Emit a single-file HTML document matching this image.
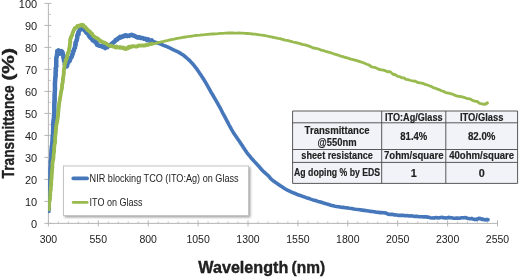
<!DOCTYPE html><html><head><meta charset="utf-8"><title>Transmittance</title>
<style>html,body{margin:0;padding:0;background:#fff}svg{display:block}text{font-family:"Liberation Sans",sans-serif;fill:#222}</style></head><body>
<svg width="520" height="277" viewBox="0 0 520 277">
<rect width="520" height="277" fill="#fff"/>
<g stroke="#b6b6b6" stroke-width="1" fill="none">
<line x1="48.4" y1="3.4" x2="48.4" y2="223.4"/>
<line x1="48.4" y1="223.4" x2="497.5" y2="223.4"/>
<line x1="48.4" y1="220.4" x2="48.4" y2="226.4"/>
<line x1="58.4" y1="221.4" x2="58.4" y2="223.4" stroke-opacity="0.8"/>
<line x1="68.4" y1="221.4" x2="68.4" y2="223.4" stroke-opacity="0.8"/>
<line x1="78.3" y1="221.4" x2="78.3" y2="223.4" stroke-opacity="0.8"/>
<line x1="88.3" y1="221.4" x2="88.3" y2="223.4" stroke-opacity="0.8"/>
<line x1="98.3" y1="220.4" x2="98.3" y2="226.4"/>
<line x1="108.3" y1="221.4" x2="108.3" y2="223.4" stroke-opacity="0.8"/>
<line x1="118.3" y1="221.4" x2="118.3" y2="223.4" stroke-opacity="0.8"/>
<line x1="128.2" y1="221.4" x2="128.2" y2="223.4" stroke-opacity="0.8"/>
<line x1="138.2" y1="221.4" x2="138.2" y2="223.4" stroke-opacity="0.8"/>
<line x1="148.2" y1="220.4" x2="148.2" y2="226.4"/>
<line x1="158.2" y1="221.4" x2="158.2" y2="223.4" stroke-opacity="0.8"/>
<line x1="168.2" y1="221.4" x2="168.2" y2="223.4" stroke-opacity="0.8"/>
<line x1="178.1" y1="221.4" x2="178.1" y2="223.4" stroke-opacity="0.8"/>
<line x1="188.1" y1="221.4" x2="188.1" y2="223.4" stroke-opacity="0.8"/>
<line x1="198.1" y1="220.4" x2="198.1" y2="226.4"/>
<line x1="208.1" y1="221.4" x2="208.1" y2="223.4" stroke-opacity="0.8"/>
<line x1="218.1" y1="221.4" x2="218.1" y2="223.4" stroke-opacity="0.8"/>
<line x1="228.0" y1="221.4" x2="228.0" y2="223.4" stroke-opacity="0.8"/>
<line x1="238.0" y1="221.4" x2="238.0" y2="223.4" stroke-opacity="0.8"/>
<line x1="248.0" y1="220.4" x2="248.0" y2="226.4"/>
<line x1="258.0" y1="221.4" x2="258.0" y2="223.4" stroke-opacity="0.8"/>
<line x1="268.0" y1="221.4" x2="268.0" y2="223.4" stroke-opacity="0.8"/>
<line x1="277.9" y1="221.4" x2="277.9" y2="223.4" stroke-opacity="0.8"/>
<line x1="287.9" y1="221.4" x2="287.9" y2="223.4" stroke-opacity="0.8"/>
<line x1="297.9" y1="220.4" x2="297.9" y2="226.4"/>
<line x1="307.9" y1="221.4" x2="307.9" y2="223.4" stroke-opacity="0.8"/>
<line x1="317.9" y1="221.4" x2="317.9" y2="223.4" stroke-opacity="0.8"/>
<line x1="327.8" y1="221.4" x2="327.8" y2="223.4" stroke-opacity="0.8"/>
<line x1="337.8" y1="221.4" x2="337.8" y2="223.4" stroke-opacity="0.8"/>
<line x1="347.8" y1="220.4" x2="347.8" y2="226.4"/>
<line x1="357.8" y1="221.4" x2="357.8" y2="223.4" stroke-opacity="0.8"/>
<line x1="367.8" y1="221.4" x2="367.8" y2="223.4" stroke-opacity="0.8"/>
<line x1="377.7" y1="221.4" x2="377.7" y2="223.4" stroke-opacity="0.8"/>
<line x1="387.7" y1="221.4" x2="387.7" y2="223.4" stroke-opacity="0.8"/>
<line x1="397.7" y1="220.4" x2="397.7" y2="226.4"/>
<line x1="407.7" y1="221.4" x2="407.7" y2="223.4" stroke-opacity="0.8"/>
<line x1="417.7" y1="221.4" x2="417.7" y2="223.4" stroke-opacity="0.8"/>
<line x1="427.6" y1="221.4" x2="427.6" y2="223.4" stroke-opacity="0.8"/>
<line x1="437.6" y1="221.4" x2="437.6" y2="223.4" stroke-opacity="0.8"/>
<line x1="447.6" y1="220.4" x2="447.6" y2="226.4"/>
<line x1="457.6" y1="221.4" x2="457.6" y2="223.4" stroke-opacity="0.8"/>
<line x1="467.6" y1="221.4" x2="467.6" y2="223.4" stroke-opacity="0.8"/>
<line x1="477.5" y1="221.4" x2="477.5" y2="223.4" stroke-opacity="0.8"/>
<line x1="487.5" y1="221.4" x2="487.5" y2="223.4" stroke-opacity="0.8"/>
<line x1="497.5" y1="220.4" x2="497.5" y2="226.4"/>
<line x1="44.4" y1="223.4" x2="51.4" y2="223.4"/>
<line x1="48.4" y1="212.4" x2="50.9" y2="212.4" stroke-opacity="0.8"/>
<line x1="44.4" y1="201.4" x2="51.4" y2="201.4"/>
<line x1="48.4" y1="190.4" x2="50.9" y2="190.4" stroke-opacity="0.8"/>
<line x1="44.4" y1="179.4" x2="51.4" y2="179.4"/>
<line x1="48.4" y1="168.4" x2="50.9" y2="168.4" stroke-opacity="0.8"/>
<line x1="44.4" y1="157.4" x2="51.4" y2="157.4"/>
<line x1="48.4" y1="146.4" x2="50.9" y2="146.4" stroke-opacity="0.8"/>
<line x1="44.4" y1="135.4" x2="51.4" y2="135.4"/>
<line x1="48.4" y1="124.4" x2="50.9" y2="124.4" stroke-opacity="0.8"/>
<line x1="44.4" y1="113.4" x2="51.4" y2="113.4"/>
<line x1="48.4" y1="102.4" x2="50.9" y2="102.4" stroke-opacity="0.8"/>
<line x1="44.4" y1="91.4" x2="51.4" y2="91.4"/>
<line x1="48.4" y1="80.4" x2="50.9" y2="80.4" stroke-opacity="0.8"/>
<line x1="44.4" y1="69.4" x2="51.4" y2="69.4"/>
<line x1="48.4" y1="58.4" x2="50.9" y2="58.4" stroke-opacity="0.8"/>
<line x1="44.4" y1="47.4" x2="51.4" y2="47.4"/>
<line x1="48.4" y1="36.4" x2="50.9" y2="36.4" stroke-opacity="0.8"/>
<line x1="44.4" y1="25.4" x2="51.4" y2="25.4"/>
<line x1="48.4" y1="14.4" x2="50.9" y2="14.4" stroke-opacity="0.8"/>
<line x1="44.4" y1="3.4" x2="51.4" y2="3.4"/>
</g>
<text x="48.4" y="242.6" font-size="10.5" text-anchor="middle">300</text>
<text x="98.3" y="242.6" font-size="10.5" text-anchor="middle">550</text>
<text x="148.2" y="242.6" font-size="10.5" text-anchor="middle">800</text>
<text x="198.1" y="242.6" font-size="10.5" text-anchor="middle">1050</text>
<text x="248.0" y="242.6" font-size="10.5" text-anchor="middle">1300</text>
<text x="297.9" y="242.6" font-size="10.5" text-anchor="middle">1550</text>
<text x="347.8" y="242.6" font-size="10.5" text-anchor="middle">1800</text>
<text x="397.7" y="242.6" font-size="10.5" text-anchor="middle">2050</text>
<text x="447.6" y="242.6" font-size="10.5" text-anchor="middle">2300</text>
<text x="497.5" y="242.6" font-size="10.5" text-anchor="middle">2550</text>
<text x="37.2" y="227.7" font-size="11" text-anchor="end">0</text>
<text x="37.2" y="205.7" font-size="11" text-anchor="end">10</text>
<text x="37.2" y="183.7" font-size="11" text-anchor="end">20</text>
<text x="37.2" y="161.7" font-size="11" text-anchor="end">30</text>
<text x="37.2" y="139.7" font-size="11" text-anchor="end">40</text>
<text x="37.2" y="117.7" font-size="11" text-anchor="end">50</text>
<text x="37.2" y="95.7" font-size="11" text-anchor="end">60</text>
<text x="37.2" y="73.7" font-size="11" text-anchor="end">70</text>
<text x="37.2" y="51.7" font-size="11" text-anchor="end">80</text>
<text x="37.2" y="29.7" font-size="11" text-anchor="end">90</text>
<text x="37.2" y="7.7" font-size="11" text-anchor="end">100</text>
<text x="198.3" y="272.8" font-size="16.5" font-weight="bold" textLength="90" lengthAdjust="spacingAndGlyphs" fill="#111" stroke="#111" stroke-width="0.35">Wavelength</text>
<text x="291.6" y="272.8" font-size="16.5" font-weight="bold" textLength="33.6" lengthAdjust="spacingAndGlyphs" fill="#111" stroke="#111" stroke-width="0.35">(nm)</text>
<text transform="translate(13.6,178.4) rotate(-90)" font-size="17" font-weight="bold" textLength="93" lengthAdjust="spacingAndGlyphs" fill="#111" stroke="#111" stroke-width="0.35">Transmittance</text>
<text transform="translate(13.6,80.6) rotate(-90)" font-size="17" font-weight="bold" textLength="32.5" lengthAdjust="spacingAndGlyphs" fill="#111" stroke="#111" stroke-width="0.35">(%)</text>
<clipPath id="pc"><rect x="48.3" y="0" width="472" height="224"/></clipPath><g clip-path="url(#pc)">
<path d="M48.4,211.1 L48.5,209.4 L48.7,206.2 L48.4,204.4 L48.6,200.5 L49.1,197.7 L49.1,195.0 L49.1,191.9 L49.2,190.5 L49.2,187.8 L49.4,184.3 L49.6,182.6 L49.5,179.3 L50.0,177.5 L50.0,175.8 L50.1,173.4 L50.1,170.8 L50.3,168.4 L50.7,164.4 L50.5,161.5 L51.3,158.4 L51.3,154.7 L51.5,151.3 L51.7,148.2 L52.1,145.6 L52.3,142.8 L52.6,140.2 L52.7,136.4 L52.9,135.1 L53.1,132.3 L53.1,129.6 L53.3,128.2 L53.1,125.8 L53.6,125.7 L53.2,124.0 L53.5,121.4 L53.6,120.4 L54.0,117.3 L54.0,115.2 L54.2,113.5 L54.4,112.0 L54.3,109.2 L54.3,104.4 L54.6,99.9 L54.6,95.1 L55.0,88.9 L54.9,84.4 L55.2,79.5 L55.7,74.8 L55.6,72.7 L55.7,71.5 L55.7,71.0 L56.0,70.4 L55.8,70.2 L55.7,68.3 L56.3,66.6 L56.2,63.4 L56.3,61.6 L56.2,59.1 L56.8,55.9 L57.0,54.6 L57.2,53.2 L57.5,52.7 L57.3,51.0 L57.9,51.8 L57.9,50.8 L58.4,50.4 L58.5,50.6 L58.7,51.5 L58.9,51.9 L59.5,52.1 L59.6,53.8 L59.7,53.3 L60.2,53.2 L60.1,53.2 L60.7,52.2 L60.8,52.0 L61.3,51.8 L61.6,51.2 L61.5,52.0 L62.1,51.8 L61.9,51.5 L62.4,52.0 L62.7,53.5 L62.6,53.4 L63.2,54.9 L63.4,55.8 L63.3,57.1 L63.9,58.6 L63.9,60.2 L64.3,61.4 L64.9,62.0 L64.7,64.3 L65.6,65.3 L65.8,66.0 L66.5,65.4 L66.7,66.5 L67.1,65.7 L67.3,64.8 L67.6,63.4 L68.2,62.7 L68.8,61.2 L69.2,61.3 L69.7,60.9 L70.1,59.7 L70.0,59.3 L70.5,57.9 L71.3,57.5 L71.5,57.2 L72.1,55.2 L72.3,54.8 L72.9,53.4 L73.3,51.2 L73.8,50.8 L74.0,49.3 L74.9,47.9 L75.2,45.3 L75.5,45.1 L75.6,42.6 L76.2,41.5 L76.7,40.0 L77.3,37.7 L77.2,36.4 L77.6,34.7 L78.5,34.4 L78.3,32.6 L78.9,31.2 L79.3,30.9 L79.9,29.8 L80.2,29.2 L80.6,29.2 L81.4,28.6 L81.4,28.1 L82.0,28.6 L82.6,28.3 L82.9,28.8 L83.1,28.6 L83.5,29.4 L84.0,29.8 L84.5,29.6 L85.2,31.0 L85.6,31.3 L86.5,32.8 L87.5,32.9 L88.2,34.4 L88.6,34.9 L89.4,36.5 L90.5,37.7 L91.5,38.5 L92.3,39.4 L92.8,40.4 L93.5,40.6 L94.8,41.3 L95.2,42.1 L96.6,43.0 L96.9,44.6 L98.0,45.2 L99.4,45.8 L100.7,46.0 L101.8,45.8 L102.9,46.9 L104.1,46.6 L105.2,48.0 L105.9,46.9 L107.3,47.3 L108.2,45.8 L109.2,45.8 L110.6,44.8 L111.4,44.0 L112.5,43.3 L113.4,42.4 L114.9,41.2 L115.9,39.8 L116.9,39.8 L117.9,38.6 L118.8,38.2 L120.1,36.9 L120.7,37.4 L122.2,36.6 L123.0,36.6 L123.9,35.7 L124.9,35.9 L126.0,35.2 L127.2,36.1 L128.0,35.7 L129.1,35.9 L130.5,35.1 L131.6,34.8 L133.2,35.6 L134.5,35.8 L136.1,36.8 L137.6,37.5 L139.3,37.2 L140.8,38.0 L142.5,38.0 L143.9,38.7 L145.6,38.7 L147.0,40.0 L148.2,39.3 L149.3,40.4 L150.6,41.1 L151.7,40.4 L152.6,41.1 L153.8,41.6 L155.3,42.2 L157.1,42.8 L159.1,43.5 L161.3,44.3 L163.5,45.4 L165.8,46.2 L168.0,47.2 L170.2,48.2 L172.5,49.3 L174.7,50.4 L176.9,51.4 L178.9,52.4 L180.6,53.4 L181.9,54.3 L183.0,54.8 L183.9,55.5 L184.6,56.2 L185.4,56.8 L186.3,57.6 L187.3,58.5 L188.4,59.5 L189.5,60.4 L190.5,61.6 L191.6,62.7 L192.7,63.8 L193.8,65.2 L194.8,66.5 L195.9,67.8 L197.0,69.2 L198.0,70.8 L199.0,72.2 L200.0,73.7 L201.0,75.1 L202.0,76.7 L203.0,78.2 L204.0,79.8 L205.0,81.5 L206.0,83.1 L207.0,84.9 L208.1,86.8 L209.1,88.6 L210.2,90.6 L211.3,92.6 L212.5,94.5 L213.7,96.6 L215.0,98.8 L216.2,100.9 L217.5,103.2 L218.7,105.3 L219.9,107.4 L221.0,109.5 L222.1,111.7 L223.2,113.8 L224.4,115.9 L225.5,118.2 L226.7,120.3 L227.9,122.6 L229.1,125.0 L230.3,127.2 L231.5,129.4 L232.7,131.4 L233.8,133.3 L235.0,135.0 L236.1,136.6 L237.2,138.2 L238.3,139.8 L239.5,141.5 L240.7,143.4 L242.0,145.2 L243.3,147.3 L244.6,149.2 L245.8,151.0 L247.0,152.8 L248.1,154.2 L249.1,155.4 L250.2,156.7 L251.1,157.9 L252.1,158.9 L253.0,160.1 L254.0,161.1 L254.9,162.1 L255.8,163.0 L256.7,163.9 L257.5,164.9 L258.4,165.8 L259.2,166.7 L259.9,167.6 L260.7,168.4 L261.4,169.4 L262.2,170.1 L263.0,171.0 L263.9,171.8 L264.8,172.7 L265.8,173.5 L266.7,174.3 L267.6,175.2 L268.5,175.9 L269.1,176.6 L269.7,177.3 L270.1,177.8 L270.7,178.6 L271.5,179.3 L272.7,180.3 L274.3,181.6 L276.3,182.9 L278.5,184.5 L280.8,186.1 L283.1,187.6 L285.3,189.0 L287.4,190.1 L289.6,191.1 L291.6,192.1 L293.8,193.0 L295.9,193.8 L298.0,194.8 L300.1,195.4 L302.1,196.2 L304.2,196.9 L306.2,197.7 L308.4,198.3 L310.6,199.1 L313.0,199.9 L315.5,200.5 L318.0,201.4 L320.5,202.0 L322.8,202.8 L325.0,203.4 L326.9,204.0 L328.6,204.4 L330.1,205.0 L331.7,205.4 L333.3,205.8 L335.0,206.2 L337.0,206.6 L339.0,206.8 L341.1,207.2 L343.3,207.4 L345.4,207.7 L347.5,207.9 L349.6,208.3 L351.7,208.5 L353.7,209.0 L355.8,209.3 L357.9,209.5 L360.0,209.8 L362.1,210.1 L364.3,210.4 L366.6,210.7 L368.7,211.0 L370.7,211.4 L372.5,211.5 L374.0,211.8 L375.2,211.9 L376.2,212.2 L377.3,212.3 L378.5,212.4 L380.0,212.6 L381.8,212.6 L383.7,212.7 L386.1,213.1 L388.0,214.1 L390.3,214.4 L392.4,214.3 L394.5,214.9 L396.7,215.0 L398.8,215.4 L400.8,215.4 L402.9,215.2 L405.1,215.8 L407.2,215.6 L409.2,216.0 L411.3,215.8 L413.3,216.2 L415.3,216.4 L417.6,216.4 L419.6,216.8 L421.6,216.7 L423.9,216.9 L425.8,216.9 L427.8,217.1 L430.2,217.7 L432.2,218.0 L434.2,217.9 L436.3,217.5 L438.5,217.9 L440.6,217.5 L442.6,217.4 L444.8,217.9 L446.6,218.0 L448.6,217.4 L450.9,217.7 L452.9,218.1 L454.8,218.2 L457.1,218.0 L459.3,218.2 L461.7,217.8 L463.6,217.7 L465.7,217.6 L467.4,218.2 L469.1,218.6 L470.6,218.7 L471.7,218.4 L472.8,218.9 L474.0,219.2 L474.9,219.6 L475.9,219.2 L477.0,219.4 L477.7,218.8 L478.6,218.4 L479.1,218.8 L480.0,218.4 L480.5,218.6 L481.4,219.0 L482.1,219.5 L482.7,219.0 L483.0,219.2 L483.7,219.6 L484.3,219.8 L485.1,219.6 L486.0,220.0 L486.9,219.4 L487.4,219.5 L488.0,219.7" fill="none" stroke="#4677ba" stroke-width="3.6" stroke-linejoin="round" stroke-linecap="round"/>
<path d="M48.4,211.1 L48.5,209.4 L48.7,206.2 L48.4,204.4 L48.6,200.5 L49.1,197.7 L49.1,195.0 L49.1,191.9 L49.2,190.5 L49.2,187.8 L49.4,184.3 L49.6,182.6 L49.5,179.3 L50.0,177.5 L50.0,175.8 L50.1,173.4 L50.1,170.8 L50.3,168.4 L50.7,164.4 L50.5,161.5 L51.3,158.4 L51.3,154.7 L51.5,151.3 L51.7,148.2 L52.1,145.6 L52.3,142.8 L52.6,140.2 L52.7,136.4 L52.9,135.1 L53.1,132.3 L53.1,129.6 L53.3,128.2 L53.1,125.8 L53.6,125.7 L53.2,124.0 L53.5,121.4 L53.6,120.4 L54.0,117.3 L54.0,115.2 L54.2,113.5 L54.4,112.0 L54.3,109.2 L54.3,104.4 L54.6,99.9 L54.6,95.1 L55.0,88.9 L54.9,84.4 L55.2,79.5 L55.7,74.8 L55.6,72.7 L55.7,71.5 L55.7,71.0 L56.0,70.4 L55.8,70.2 L55.7,68.3 L56.3,66.6 L56.2,63.4 L56.3,61.6 L56.2,59.1 L56.8,55.9 L57.0,54.6 L57.2,53.2 L57.5,52.7 L57.3,51.0 L57.9,51.8 L57.9,50.8 L58.4,50.4 L58.5,50.6 L58.7,51.5 L58.9,51.9 L59.5,52.1 L59.6,53.8 L59.7,53.3 L60.2,53.2 L60.1,53.2 L60.7,52.2 L60.8,52.0 L61.3,51.8 L61.6,51.2 L61.5,52.0 L62.1,51.8 L61.9,51.5 L62.4,52.0 L62.7,53.5 L62.6,53.4 L63.2,54.9 L63.4,55.8 L63.3,57.1 L63.9,58.6 L63.9,60.2 L64.3,61.4 L64.9,62.0 L64.7,64.3 L65.6,65.3 L65.8,66.0 L66.5,65.4 L66.7,66.5 L67.1,65.7 L67.3,64.8 L67.6,63.4 L68.2,62.7 L68.8,61.2 L69.2,61.3 L69.7,60.9 L70.1,59.7 L70.0,59.3 L70.5,57.9 L71.3,57.5 L71.5,57.2 L72.1,55.2 L72.3,54.8 L72.9,53.4 L73.3,51.2 L73.8,50.8 L74.0,49.3 L74.9,47.9 L75.2,45.3 L75.5,45.1 L75.6,42.6 L76.2,41.5 L76.7,40.0 L77.3,37.7 L77.2,36.4 L77.6,34.7 L78.5,34.4 L78.3,32.6 L78.9,31.2 L79.3,30.9 L79.9,29.8 L80.2,29.2 L80.6,29.2 L81.4,28.6 L81.4,28.1 L82.0,28.6 L82.6,28.3 L82.9,28.8 L83.1,28.6 L83.5,29.4 L84.0,29.8 L84.5,29.6 L85.2,31.0 L85.6,31.3 L86.5,32.8 L87.5,32.9 L88.2,34.4 L88.6,34.9 L89.4,36.5 L90.5,37.7 L91.5,38.5 L92.3,39.4 L92.8,40.4 L93.5,40.6 L94.8,41.3 L95.2,42.1 L96.6,43.0 L96.9,44.6 L98.0,45.2 L99.4,45.8 L100.7,46.0 L101.8,45.8 L102.9,46.9 L104.1,46.6 L105.2,48.0 L105.9,46.9 L107.3,47.3 L108.2,45.8 L109.2,45.8 L110.6,44.8 L111.4,44.0 L112.5,43.3 L113.4,42.4 L114.9,41.2 L115.9,39.8 L116.9,39.8 L117.9,38.6 L118.8,38.2 L120.1,36.9 L120.7,37.4 L122.2,36.6 L123.0,36.6 L123.9,35.7 L124.9,35.9 L126.0,35.2 L127.2,36.1 L128.0,35.7 L129.1,35.9 L130.5,35.1 L131.6,34.8 L133.2,35.6 L134.5,35.8 L136.1,36.8 L137.6,37.5 L139.3,37.2 L140.8,38.0 L142.5,38.0 L143.9,38.7 L145.6,38.7 L147.0,40.0 L148.2,39.3 L149.3,40.4 L150.6,41.1 L151.7,40.4" fill="none" stroke="#4677ba" stroke-width="4.5" stroke-linejoin="round" stroke-linecap="round"/>
<path d="M48.8,209.4 L48.6,207.6 L49.0,207.1 L49.0,205.6 L49.3,203.1 L49.2,201.0 L49.7,200.5 L50.0,198.3 L50.0,197.3 L50.3,195.2 L50.2,193.4 L50.3,191.3 L50.7,190.6 L50.8,188.3 L50.8,186.8 L51.1,185.3 L51.3,183.3 L51.1,182.0 L51.3,180.5 L51.6,178.3 L51.7,174.6 L51.9,172.6 L52.1,169.5 L52.4,167.4 L52.4,164.2 L52.8,161.0 L53.4,158.5 L53.6,154.3 L54.1,151.1 L54.2,148.7 L54.5,144.7 L55.2,142.4 L55.1,138.6 L55.4,135.2 L55.7,133.1 L56.0,128.8 L56.4,125.1 L57.1,121.9 L57.8,117.4 L58.3,112.1 L58.6,108.8 L59.1,103.7 L59.8,100.0 L60.3,96.6 L60.6,95.1 L60.9,92.6 L61.4,90.5 L62.0,87.7 L62.1,84.4 L62.8,81.9 L62.8,79.9 L63.4,76.0 L63.8,73.8 L63.8,70.6 L64.1,69.2 L64.5,65.9 L64.8,63.7 L65.4,62.8 L65.7,59.9 L66.6,59.3 L67.0,56.7 L67.1,56.2 L67.6,54.7 L67.9,52.8 L68.3,52.7 L68.8,51.4 L69.0,50.0 L69.2,48.5 L69.7,46.5 L69.7,45.7 L70.0,43.0 L70.3,42.2 L70.1,40.0 L70.4,38.5 L71.1,37.8 L71.3,36.4 L71.2,36.5 L72.0,35.6 L72.3,34.0 L72.8,32.4 L73.2,31.7 L73.5,30.7 L74.2,29.5 L74.8,28.2 L75.3,27.8 L76.2,27.7 L76.6,27.2 L76.8,27.2 L77.3,25.9 L78.0,26.5 L78.4,26.2 L79.0,26.3 L79.6,25.4 L80.3,25.7 L81.1,25.0 L81.4,25.0 L81.8,24.7 L82.6,25.2 L82.6,25.5 L83.1,25.9 L83.5,25.2 L84.0,26.5 L84.5,27.0 L85.3,27.0 L85.8,27.9 L86.6,28.6 L87.6,30.1 L88.4,30.1 L89.2,31.3 L90.3,31.9 L90.9,33.1 L92.0,33.7 L93.2,35.9 L94.2,36.6 L95.5,37.6 L96.7,38.0 L97.7,38.5 L99.0,39.7 L100.1,41.2 L101.2,41.1 L102.8,42.3 L103.6,42.3 L105.0,42.9 L106.6,43.8 L107.5,44.7 L108.9,45.3 L110.3,46.0 L111.5,45.7 L113.1,46.7 L114.0,46.6 L115.7,47.6 L116.5,46.4 L117.8,47.1 L118.9,47.7 L119.4,47.2 L120.2,47.7 L120.6,47.1 L121.2,47.4 L121.8,47.9 L122.6,47.6 L123.0,47.4 L123.7,48.6 L124.3,48.1 L125.1,48.8 L125.4,48.3 L125.9,49.1 L126.4,48.5 L127.2,47.9 L127.9,48.4 L128.6,47.8 L128.8,46.7 L129.5,46.9 L129.8,47.5 L130.3,47.4 L131.3,46.4 L132.1,46.6 L132.9,46.2 L134.3,46.4 L136.4,46.7 L138.8,45.5 L140.8,45.7 L142.8,45.3 L144.9,45.7 L146.7,44.6 L148.3,44.8 L150.1,44.2 L151.9,43.8 L153.5,43.8 L155.3,43.4 L157.3,42.9 L159.4,42.4 L161.5,41.8 L163.7,41.4 L165.9,40.8 L168.0,40.4 L170.1,39.8 L172.2,39.5 L174.2,39.1 L176.3,38.5 L178.4,38.2 L180.6,37.8 L182.9,37.4 L185.3,37.0 L187.7,36.7 L190.1,36.3 L192.5,36.0 L195.0,35.5 L197.5,35.3 L199.9,35.1 L202.5,34.8 L205.0,34.7 L207.5,34.4 L210.0,34.2 L212.6,34.0 L215.3,33.8 L217.9,33.7 L220.5,33.4 L222.9,33.3 L225.0,33.2 L226.7,33.1 L228.0,33.0 L229.2,32.9 L230.3,33.0 L231.5,33.0 L233.0,32.9 L234.7,33.1 L236.6,33.1 L238.6,33.0 L240.6,33.1 L242.8,33.2 L245.0,33.4 L247.4,33.5 L250.0,33.7 L252.6,34.0 L255.2,34.2 L257.8,34.6 L260.0,34.9 L261.9,35.1 L263.7,35.3 L265.3,35.7 L266.8,36.0 L268.4,36.3 L270.0,36.6 L271.7,37.0 L273.3,37.3 L275.0,37.7 L276.7,38.0 L278.3,38.4 L280.0,38.7 L281.6,39.2 L283.3,39.6 L285.0,40.1 L286.7,40.4 L288.3,40.7 L290.0,41.2 L291.6,41.5 L293.1,42.0 L294.6,42.3 L296.2,42.6 L298.0,43.2 L300.0,43.6 L302.2,44.4 L305.0,44.9 L307.5,45.7 L310.5,46.7 L313.3,48.0 L316.0,48.4 L318.7,49.0 L321.3,50.2 L323.9,50.7 L326.7,51.7 L329.4,52.3 L332.1,53.3 L334.7,54.2 L337.3,54.9 L339.9,55.8 L342.7,56.6 L345.2,57.4 L347.9,58.2 L350.9,59.2 L354.0,59.9 L356.9,60.6 L359.9,61.6 L362.7,62.5 L365.1,63.5 L366.8,64.2 L368.1,64.7 L369.1,65.0 L370.2,65.8 L371.1,66.7 L372.7,67.1 L374.6,67.4 L376.9,68.2 L379.1,69.4 L381.3,69.8 L383.6,70.2 L385.5,70.8 L386.4,71.2 L387.3,71.6 L388.3,71.8 L388.6,71.7 L389.4,71.6 L390.3,71.8 L391.3,72.7 L392.4,73.7 L393.5,74.5 L394.9,74.4 L396.5,75.7 L398.1,76.4 L399.8,76.7 L401.8,77.8 L404.1,77.9 L405.9,79.3 L408.5,79.7 L410.7,80.5 L412.9,81.0 L415.4,81.2 L417.7,82.5 L420.2,82.8 L422.6,83.3 L425.1,84.4 L427.4,85.0 L429.2,85.7 L431.3,86.5 L433.6,87.8 L435.5,88.2 L437.5,89.1 L439.8,89.9 L442.1,91.0 L443.9,91.6 L445.9,92.7 L448.3,93.0 L450.4,93.6 L452.3,94.1 L454.4,95.1 L456.7,95.8 L458.6,96.3 L460.9,96.5 L463.0,97.1 L465.0,97.7 L467.5,98.7 L469.8,98.8 L471.9,100.0 L473.9,100.9 L475.5,101.3 L477.4,101.3 L478.7,102.8 L479.8,103.4 L481.2,103.6 L482.0,103.8 L483.3,104.3 L484.1,104.3 L485.3,103.9 L485.7,104.3 L486.6,103.3 L487.4,102.8 L487.5,103.2" fill="none" stroke="#98ba4f" stroke-width="2.8" stroke-linejoin="round" stroke-linecap="round"/>
<path d="M48.8,209.4 L48.6,207.6 L49.0,207.1 L49.0,205.6 L49.3,203.1 L49.2,201.0 L49.7,200.5 L50.0,198.3 L50.0,197.3 L50.3,195.2 L50.2,193.4 L50.3,191.3 L50.7,190.6 L50.8,188.3 L50.8,186.8 L51.1,185.3 L51.3,183.3 L51.1,182.0 L51.3,180.5 L51.6,178.3 L51.7,174.6 L51.9,172.6 L52.1,169.5 L52.4,167.4 L52.4,164.2 L52.8,161.0 L53.4,158.5 L53.6,154.3 L54.1,151.1 L54.2,148.7 L54.5,144.7 L55.2,142.4 L55.1,138.6 L55.4,135.2 L55.7,133.1 L56.0,128.8 L56.4,125.1 L57.1,121.9 L57.8,117.4 L58.3,112.1 L58.6,108.8 L59.1,103.7 L59.8,100.0 L60.3,96.6 L60.6,95.1 L60.9,92.6 L61.4,90.5 L62.0,87.7 L62.1,84.4 L62.8,81.9 L62.8,79.9 L63.4,76.0 L63.8,73.8 L63.8,70.6 L64.1,69.2 L64.5,65.9 L64.8,63.7 L65.4,62.8 L65.7,59.9 L66.6,59.3 L67.0,56.7 L67.1,56.2 L67.6,54.7 L67.9,52.8 L68.3,52.7 L68.8,51.4 L69.0,50.0 L69.2,48.5 L69.7,46.5 L69.7,45.7 L70.0,43.0 L70.3,42.2 L70.1,40.0 L70.4,38.5 L71.1,37.8 L71.3,36.4 L71.2,36.5 L72.0,35.6 L72.3,34.0 L72.8,32.4 L73.2,31.7 L73.5,30.7 L74.2,29.5 L74.8,28.2 L75.3,27.8 L76.2,27.7 L76.6,27.2 L76.8,27.2 L77.3,25.9 L78.0,26.5 L78.4,26.2 L79.0,26.3 L79.6,25.4 L80.3,25.7 L81.1,25.0 L81.4,25.0 L81.8,24.7 L82.6,25.2 L82.6,25.5 L83.1,25.9 L83.5,25.2 L84.0,26.5 L84.5,27.0 L85.3,27.0 L85.8,27.9 L86.6,28.6 L87.6,30.1 L88.4,30.1 L89.2,31.3 L90.3,31.9 L90.9,33.1 L92.0,33.7 L93.2,35.9 L94.2,36.6 L95.5,37.6 L96.7,38.0 L97.7,38.5 L99.0,39.7 L100.1,41.2 L101.2,41.1 L102.8,42.3 L103.6,42.3 L105.0,42.9 L106.6,43.8 L107.5,44.7 L108.9,45.3 L110.3,46.0 L111.5,45.7 L113.1,46.7 L114.0,46.6 L115.7,47.6 L116.5,46.4 L117.8,47.1 L118.9,47.7 L119.4,47.2 L120.2,47.7 L120.6,47.1 L121.2,47.4 L121.8,47.9 L122.6,47.6 L123.0,47.4 L123.7,48.6 L124.3,48.1 L125.1,48.8 L125.4,48.3 L125.9,49.1 L126.4,48.5 L127.2,47.9 L127.9,48.4 L128.6,47.8 L128.8,46.7 L129.5,46.9 L129.8,47.5 L130.3,47.4 L131.3,46.4 L132.1,46.6 L132.9,46.2 L134.3,46.4 L136.4,46.7 L138.8,45.5 L140.8,45.7 L142.8,45.3 L144.9,45.7 L146.7,44.6 L148.3,44.8 L150.1,44.2 L151.9,43.8" fill="none" stroke="#98ba4f" stroke-width="3.8" stroke-linejoin="round" stroke-linecap="round"/>
</g>
<defs><filter id="sh" x="-10%" y="-10%" width="130%" height="140%"><feDropShadow dx="1.5" dy="1.5" stdDeviation="1.2" flood-color="#000" flood-opacity="0.35"/></filter></defs>
<rect x="63.5" y="166" width="185" height="49.5" fill="#fff" stroke="#c4c4c4" stroke-width="1" filter="url(#sh)"/>
<line x1="73.2" y1="178.4" x2="87.2" y2="178.4" stroke="#4677ba" stroke-width="3.6" stroke-linecap="round"/>
<line x1="73.2" y1="202.4" x2="87.2" y2="202.4" stroke="#98ba4f" stroke-width="2.8" stroke-linecap="round"/>
<text x="89.6" y="182" font-size="10.8" textLength="149" lengthAdjust="spacingAndGlyphs">NIR blocking TCO (ITO:Ag) on Glass</text>
<text x="89.6" y="206" font-size="10.8" textLength="53" lengthAdjust="spacingAndGlyphs">ITO on Glass</text>
<rect x="292.6" y="111.0" width="225.0" height="72.4" fill="#f2f3f9"/>
<g stroke="#505050" stroke-width="0.95" fill="none">
<line x1="292.6" y1="111.0" x2="517.6" y2="111.0"/>
<line x1="292.6" y1="122.8" x2="517.6" y2="122.8"/>
<line x1="292.6" y1="149.5" x2="517.6" y2="149.5"/>
<line x1="292.6" y1="162.4" x2="517.6" y2="162.4"/>
<line x1="292.6" y1="183.4" x2="517.6" y2="183.4"/>
<line x1="292.6" y1="111.0" x2="292.6" y2="183.4"/>
<line x1="381.7" y1="111.0" x2="381.7" y2="183.4"/>
<line x1="445.8" y1="111.0" x2="445.8" y2="183.4"/>
<line x1="517.6" y1="111.0" x2="517.6" y2="183.4"/>
</g>
<text x="413.8" y="120.8" font-size="10.8" font-weight="bold" text-anchor="middle" fill="#111" stroke="#111" stroke-width="0.15" textLength="57.5" lengthAdjust="spacingAndGlyphs">ITO:Ag/Glass</text>
<text x="481.7" y="120.8" font-size="10.8" font-weight="bold" text-anchor="middle" fill="#111" stroke="#111" stroke-width="0.15" textLength="43.5" lengthAdjust="spacingAndGlyphs">ITO/Glass</text>
<text x="337.1" y="134.3" font-size="10.8" font-weight="bold" text-anchor="middle" fill="#111" stroke="#111" stroke-width="0.15" textLength="65.0" lengthAdjust="spacingAndGlyphs">Transmittance</text>
<text x="337.1" y="146.3" font-size="10.8" font-weight="bold" text-anchor="middle" fill="#111" stroke="#111" stroke-width="0.15" textLength="39.0" lengthAdjust="spacingAndGlyphs">@550nm</text>
<text x="413.8" y="140.0" font-size="10.8" font-weight="bold" text-anchor="middle" fill="#111" stroke="#111" stroke-width="0.15" textLength="27.0" lengthAdjust="spacingAndGlyphs">81.4%</text>
<text x="481.7" y="140.0" font-size="10.8" font-weight="bold" text-anchor="middle" fill="#111" stroke="#111" stroke-width="0.15" textLength="27.5" lengthAdjust="spacingAndGlyphs">82.0%</text>
<text x="337.1" y="158.9" font-size="10.8" font-weight="bold" text-anchor="middle" fill="#111" stroke="#111" stroke-width="0.15" textLength="71.5" lengthAdjust="spacingAndGlyphs">sheet resistance</text>
<text x="413.8" y="158.9" font-size="10.8" font-weight="bold" text-anchor="middle" fill="#111" stroke="#111" stroke-width="0.15" textLength="59.5" lengthAdjust="spacingAndGlyphs">7ohm/square</text>
<text x="481.7" y="158.9" font-size="10.8" font-weight="bold" text-anchor="middle" fill="#111" stroke="#111" stroke-width="0.15" textLength="65.0" lengthAdjust="spacingAndGlyphs">40ohm/square</text>
<text x="337.1" y="176.0" font-size="10.8" font-weight="bold" text-anchor="middle" fill="#111" stroke="#111" stroke-width="0.15" textLength="86.0" lengthAdjust="spacingAndGlyphs">Ag doping % by EDS</text>
<text x="413.8" y="176.8" font-size="10.8" font-weight="bold" text-anchor="middle" fill="#111" stroke="#111" stroke-width="0.15">1</text>
<text x="481.7" y="176.8" font-size="10.8" font-weight="bold" text-anchor="middle" fill="#111" stroke="#111" stroke-width="0.15">0</text>
</svg></body></html>
